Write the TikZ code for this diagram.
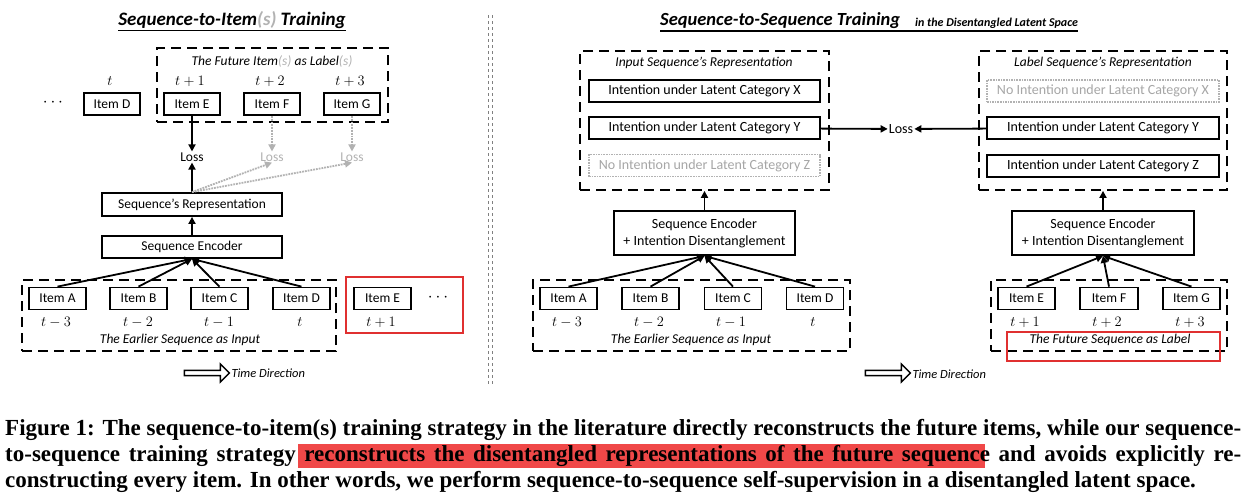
\documentclass[tikz,border=0pt]{standalone}
\usepackage{fontspec}
\setmainfont{Carlito}
\newfontfamily\capfont{Liberation Serif}
\usetikzlibrary{arrows.meta,shapes.arrows}
\definecolor{hl}{HTML}{F04848}
\definecolor{rbox}{HTML}{E03030}
\tikzset{
 item/.style={draw,line width=1.8pt,minimum height=22pt,inner sep=1pt,font=\fontsize{13.5}{13.5}\selectfont},
 wbox/.style={draw,line width=1.8pt,inner sep=1pt,font=\fontsize{13.5}{15}\selectfont,align=center},
 rbox/.style={draw,line width=1.8pt,inner sep=1pt,font=\fontsize{14}{17}\selectfont,align=center},
 gbox/.style={draw=gray!60,densely dotted,line width=1.6pt,inner sep=1pt,text=gray!70,font=\fontsize{14}{17}\selectfont},
 dbox/.style={draw,dash pattern=on 10pt off 6pt,line width=1.8pt},
 lab/.style={font=\fontsize{13.5}{13.5}\selectfont\itshape},
 tl/.style={font=\fontsize{13.5}{13.5}\selectfont},
 arr/.style={-{Triangle[length=7pt,width=7pt]},line width=1.8pt},
 garr/.style={-{Triangle[length=7pt,width=7pt]},line width=1.8pt,densely dotted,gray!60},
 tdir/.style={single arrow,draw,line width=1.4pt,minimum height=45pt,minimum width=18pt,single arrow head extend=4pt,inner sep=1pt},
}
\begin{document}
\begin{tikzpicture}[x=1pt,y=-1pt]
\useasboundingbox[fill=white] (0,0) rectangle (1246,501);
% separator
\draw[gray,dashed,line width=0.8pt] (488,15) -- (488,385);
\draw[gray,dashed,line width=0.8pt] (492,15) -- (492,385);
% ===== LEFT =====
\node[font=\fontsize{19}{19}\selectfont\bfseries\itshape] (t1) at (232,21) {\underline{Sequence-to-Item{\color{gray!60}(s)} Training}};
\node[dbox,minimum width=231pt,minimum height=74pt] (fut) at (272.5,85) {};
\node[lab] (futl) at (272,61) {The Future Item{\color{gray!60}(s)} as Label{\color{gray!60}(s)}};
\node[tl] (tt) at (110,81) {$t$};
\node[tl] (tt1) at (190,81) {$t+1$};
\node[tl] (tt2) at (270,81) {$t+2$};
\node[tl] (tt3) at (350,81) {$t+3$};
\node[font=\fontsize{18}{18}\selectfont] (dots1) at (53,103) {$\cdots$};
\node[item,minimum width=56pt] (iD) at (112,104) {Item D};
\node[item,minimum width=56pt] (iE) at (192,104) {Item E};
\node[item,minimum width=56pt] (iF) at (272,104) {Item F};
\node[item,minimum width=56pt] (iG) at (352,104) {Item G};
\node[tl,inner sep=1pt] (l1) at (192,157) {Loss};
\node[tl,inner sep=1pt,text=gray!60] (l2) at (272,157) {Loss};
\node[tl,inner sep=1pt,text=gray!60] (l3) at (352,157) {Loss};
\node[wbox,minimum width=180pt,minimum height=23pt] (rep) at (192,204.5) {Sequence's Representation};
\node[wbox,minimum width=180pt,minimum height=22pt] (enc) at (192,247) {Sequence Encoder};
\draw[arr] (iE) -- (l1);
\draw[garr] (iF) -- (l2);
\draw[garr] (iG) -- (l3);
\draw[arr] (rep) -- (l1);
\draw[garr] (rep.north) -- (l2.south);
\draw[garr] (rep.north) -- (l3.south);
\draw[arr] (enc) -- (rep);
\node[dbox,minimum width=314pt,minimum height=71pt] (inp) at (179,315.5) {};
\node[item,minimum width=57pt] (a) at (57.5,298.5) {Item A};
\node[item,minimum width=57pt] (b) at (138.5,298.5) {Item B};
\node[item,minimum width=57pt] (c) at (219.5,298.5) {Item C};
\node[item,minimum width=57pt] (d) at (301.5,298.5) {Item D};
\node[tl] (ta) at (56,322) {$t-3$};
\node[tl] (tb) at (138,322) {$t-2$};
\node[tl] (tc) at (219,322) {$t-1$};
\node[tl] (td) at (300,322) {$t$};
\node[lab] (inl) at (180,340) {The Earlier Sequence as Input};
\foreach \n in {a,b,c,d} \draw[arr] (\n.north) -- (enc.south);
\node[draw=rbox,line width=2.4pt,minimum width=117pt,minimum height=56pt] (red1) at (404.5,305) {};
\node[item,minimum width=57pt] (e2) at (382.5,298.5) {Item E};
\node[font=\fontsize{18}{18}\selectfont] (dots2) at (438,298) {$\cdots$};
\node[tl] (te2) at (381,322) {$t+1$};
\node[tdir] (ar1) at (205.5,373) {};
\node[anchor=west,font=\fontsize{12.5}{12.5}\selectfont\itshape] (tdl) at (228,373) {Time Direction};
% ===== RIGHT =====
\node[font=\fontsize{18.5}{19}\selectfont\bfseries\itshape,anchor=west,inner sep=0] (t2) at (660,21) {Sequence-to-Sequence Training};
\node[font=\fontsize{12}{12}\selectfont\bfseries\itshape,anchor=west,inner sep=0] (t2b) at (915,23) {in the Disentangled Latent Space};
\draw[line width=1.2pt] (t2.west |- 0,31) -- (t2b.east |- 0,31);
\node[dbox,minimum width=249pt,minimum height=139pt] (irep) at (704.5,120.5) {};
\node[lab] (irl) at (704,63) {Input Sequence's Representation};
\node[rbox,minimum width=231pt,minimum height=22pt] (ix) at (704.5,91) {Intention under Latent Category X};
\node[rbox,minimum width=231pt,minimum height=22pt] (iy) at (704.5,128) {Intention under Latent Category Y};
\node[gbox,minimum width=231pt,minimum height=22pt] (iz) at (704.5,165.5) {No Intention under Latent Category Z};
\node[font=\fontsize{14}{14}\selectfont,inner sep=1pt] (loss) at (901,129) {Loss};
\node[dbox,minimum width=248pt,minimum height=139pt] (lrep) at (1103,120.5) {};
\node[lab] (lrl) at (1103,63) {Label Sequence's Representation};
\node[gbox,minimum width=232pt,minimum height=22pt] (lx) at (1103,91) {No Intention under Latent Category X};
\node[rbox,minimum width=232pt,minimum height=22pt] (ly) at (1103,128) {Intention under Latent Category Y};
\node[rbox,minimum width=232pt,minimum height=22pt] (lz) at (1103,166) {Intention under Latent Category Z};
\draw[arr] (iy) -- (loss);
\draw[arr] (ly) -- (loss);
\node[rbox,minimum width=181pt,minimum height=44pt] (enc2) at (704.5,233) {Sequence Encoder\\+ Intention Disentanglement};
\node[rbox,minimum width=182pt,minimum height=44pt] (enc3) at (1103,233) {Sequence Encoder\\+ Intention Disentanglement};
\draw[arr] (enc2) -- (irep);
\draw[arr] (enc3) -- (lrep);
\node[dbox,minimum width=317pt,minimum height=71pt] (inp2) at (691.5,315.5) {};
\node[item,minimum width=57pt] (a2) at (568.5,298.5) {Item A};
\node[item,minimum width=57pt] (b2) at (650.5,298.5) {Item B};
\node[item,minimum width=57pt] (c2) at (733,298.5) {Item C};
\node[item,minimum width=57pt] (d2) at (815,298.5) {Item D};
\node[tl] (ta2) at (567,322) {$t-3$};
\node[tl] (tb2) at (649,322) {$t-2$};
\node[tl] (tc2) at (731,322) {$t-1$};
\node[tl] (td2) at (813,322) {$t$};
\node[lab] (inl2) at (691,340) {The Earlier Sequence as Input};
\foreach \n in {a2,b2,c2,d2} \draw[arr] (\n.north) -- (enc2.south);
\node[dbox,minimum width=236pt,minimum height=71pt] (lab2) at (1109,315.5) {};
\node[item,minimum width=57pt] (e3) at (1026.5,298.5) {Item E};
\node[item,minimum width=58pt] (f3) at (1109,298.5) {Item F};
\node[item,minimum width=57pt] (g3) at (1191.5,298.5) {Item G};
\node[tl] (te3) at (1025,322) {$t+1$};
\node[tl] (tf3) at (1107,322) {$t+2$};
\node[tl] (tg3) at (1190,322) {$t+3$};
\node[lab] (ll2) at (1110,340) {The Future Sequence as Label};
\node[draw=rbox,line width=2.4pt,minimum width=213pt,minimum height=29pt] (red2) at (1113.5,346.5) {};
\foreach \n in {e3,f3,g3} \draw[arr] (\n.north) -- (enc3.south);
\node[tdir] (ar2) at (886.5,373) {};
\node[anchor=west,font=\fontsize{12.5}{12.5}\selectfont\itshape] (tdl2) at (909,374) {Time Direction};
% ===== CAPTION =====
\fill[hl] (298,444) rectangle (985,468);
\node[anchor=west,inner sep=0,font=\capfont\bfseries\fontsize{23}{24}\selectfont] (c1) at (5,430) {\makebox[1236pt][s]{Figure 1: The sequence-to-item(s) training strategy in the literature directly reconstructs the future items, while our sequence-}};
\node[anchor=west,inner sep=0,font=\capfont\bfseries\fontsize{23}{24}\selectfont] (c2) at (5,456) {\makebox[1236pt][s]{to-sequence training strategy reconstructs the disentangled representations of the future sequence and avoids explicitly re-}};
\node[anchor=west,inner sep=0,font=\capfont\bfseries\fontsize{23}{24}\selectfont] (c3) at (5,482) {constructing every item. In other words, we perform sequence-to-sequence self-supervision in a disentangled latent space.};
\end{tikzpicture}
\end{document}
